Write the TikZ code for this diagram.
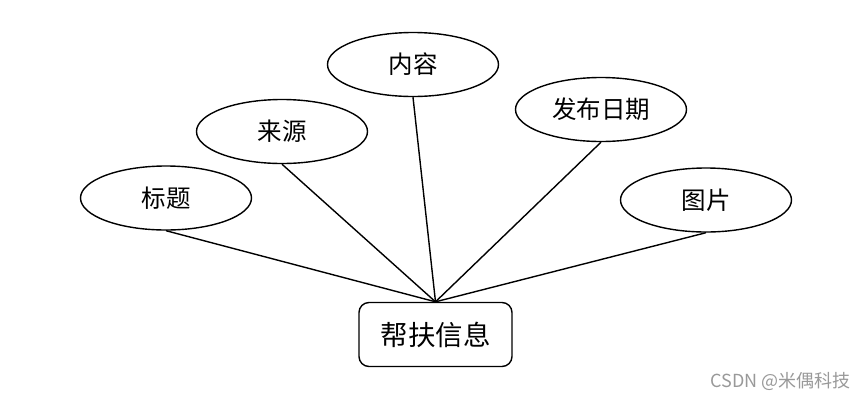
\documentclass[tikz,border=0pt]{standalone}
\usepackage{fontspec}
\usepackage{xcolor}
\usepackage{tikz}
\usetikzlibrary{shapes.geometric}
\newfontfamily\cjk{Noto Sans CJK SC}

\begin{document}
\begin{tikzpicture}[
    x=1pt, y=-1pt,
    font=\cjk,
    attr/.style={draw, ellipse, line width=1.4pt, inner sep=0pt, minimum width=171pt, minimum height=64pt, font=\cjk\fontsize{24.5}{29}\selectfont},
    entity/.style={draw, rounded corners=10pt, line width=1.4pt, inner sep=0pt, minimum width=153pt, minimum height=64pt, font=\cjk\fontsize{27.5}{32}\selectfont},
    link/.style={line width=1.4pt}
  ]
    \useasboundingbox (0,0) rectangle (868,400);
    \node[entity] (info) at (435.5,334.5) {帮扶信息};
    \node[attr] (title) at (166,198) {标题};
    \node[attr] (source) at (282,131.5) {来源};
    \node[attr] (content) at (413,64.5) {内容};
    \node[attr] (date) at (601,109.5) {发布日期};
    \node[attr] (picture) at (706,200) {图片};
    \node[text=gray!80, font=\cjk\fontsize{18}{21}\selectfont, anchor=east] (mark) at (854,381) {CSDN @米偶科技};

    \draw[link] (title.south) -- (info.north);
    \draw[link] (source.south) -- (info.north);
    \draw[link] (content.south) -- (info.north);
    \draw[link] (date.south) -- (info.north);
    \draw[link] (picture.south) -- (info.north);
  \end{tikzpicture}
\end{document}
